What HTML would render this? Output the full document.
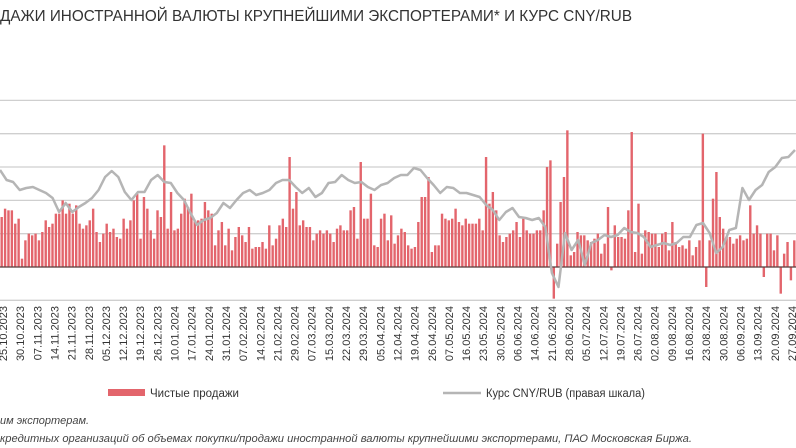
<!DOCTYPE html>
<html><head><meta charset="utf-8">
<style>
body{margin:0;background:#fff;width:796px;height:448px;overflow:hidden;font-family:"Liberation Sans",sans-serif}
svg{display:block}
</style></head>
<body>
<svg id="chart" width="796" height="448" xmlns="http://www.w3.org/2000/svg">
<text x="0" y="21" font-size="15.5" fill="#333" textLength="632" lengthAdjust="spacingAndGlyphs">ДАЖИ ИНОСТРАННОЙ ВАЛЮТЫ КРУПНЕЙШИМИ ЭКСПОРТЕРАМИ* И КУРС CNY/RUB</text>
<g id="grid"></g>
<g id="bars"></g>
<g id="line"></g>
<g id="xlabels"></g>
<g>
<rect x="108" y="389" width="37" height="7" fill="#e3656c"/>
<text x="150" y="397" font-size="11.5" fill="#333">Чистые продажи</text>
<line x1="443" y1="393" x2="481" y2="393" stroke="#b5b5b5" stroke-width="2.5"/>
<text x="486" y="397" font-size="11.5" fill="#333" textLength="159" lengthAdjust="spacingAndGlyphs">Курс CNY/RUB (правая шкала)</text>
</g>
<text x="0" y="424" font-size="11" font-style="italic" fill="#444">им экспортерам.</text>
<text x="0" y="442" font-size="11" font-style="italic" fill="#444" textLength="692" lengthAdjust="spacingAndGlyphs">кредитных организаций об объемах покупки/продажи иностранной валюты крупнейшими экспортерами, ПАО Московская Биржа.</text>
</svg>
<script>
const netSales=[1.5,1.75,1.7,1.7,1.3,1.45,0.25,0.8,1.0,0.95,1.0,0.8,1.05,1.4,1.2,1.3,1.6,1.6,2.0,1.6,1.9,1.6,1.85,1.3,1.15,1.25,1.4,1.75,1.05,0.75,1.0,1.3,1.05,1.15,0.9,0.85,1.45,1.15,1.4,2.0,2.2,0.85,2.1,1.75,1.1,0.85,1.7,1.5,3.65,1.15,2.25,1.1,1.15,1.6,2.05,1.8,2.2,1.4,1.4,1.45,1.95,1.7,1.6,0.65,1.1,1.35,0.65,1.15,0.5,0.9,1.2,0.95,0.75,1.2,0.55,0.6,0.6,0.75,0.55,1.25,0.65,0.85,1.25,1.45,1.2,3.3,1.75,2.25,1.25,1.4,1.2,1.2,0.8,1.0,1.1,1.0,1.1,1.0,0.75,1.15,1.25,1.1,1.1,1.7,1.8,0.85,3.15,1.45,1.45,2.2,0.65,0.6,1.45,1.6,0.8,1.55,
0.7,0.95,1.15,1.05,0.65,0.55,0.6,1.35,2.1,2.1,2.7,0.45,0.65,0.65,1.6,1.45,1.4,1.45,1.75,1.35,1.25,1.45,1.3,1.3,1.3,1.45,1.1,3.3,1.9,2.25,1.7,0.95,0.75,0.9,1.0,1.1,1.35,0.9,1.45,1.1,1.0,1.0,1.1,1.1,1.7,3.0,3.2,-0.95,0.7,1.95,2.7,4.1,0.35,0.45,1.05,0.95,0.95,0.8,0.75,0.85,1.0,0.4,0.7,1.8,-0.1,1.25,0.9,0.9,0.85,1.7,4.05,0.45,1.9,0.4,1.1,1.05,1.0,1.0,0.6,1.0,1.05,0.5,1.35,0.75,0.6,0.65,0.55,0.8,0.35,0.6,0.8,4.0,-0.6,0.8,2.05,2.85,1.5,1.15,0.9,0.9,0.7,0.85,0.95,0.8,0.85,1.85,1.0,1.25,1.0,-0.3,1.0,1.0,0.5,0.95,-0.8,0.4,0.75,-0.4,0.8];
const cnyRub=[12.80,12.70,12.68,12.60,12.62,12.63,12.60,12.57,12.52,12.38,12.47,12.38,12.43,12.47,12.52,12.60,12.73,12.79,12.73,12.58,12.50,12.58,12.58,12.70,12.75,12.68,12.67,12.57,12.50,12.37,12.25,12.30,12.32,12.37,12.47,12.42,12.50,12.57,12.60,12.55,12.57,12.60,12.67,12.70,12.70,12.63,12.57,12.62,12.53,12.57,12.67,12.68,12.75,12.70,12.67,12.68,12.63,12.60,12.65,12.67,12.72,12.75,
12.75,12.82,12.80,12.72,12.65,12.57,12.63,12.62,12.57,12.57,12.55,12.53,12.45,12.40,12.30,12.38,12.42,12.33,12.32,12.30,12.32,12.23,11.77,11.63,12.17,12.00,12.10,11.85,12.07,12.10,12.15,12.13,12.15,12.22,12.18,12.17,12.13,12.03,12.05,12.07,12.05,12.07,12.13,12.13,12.25,12.27,12.17,11.97,12.03,12.20,12.22,12.62,12.50,12.60,12.65,12.78,12.83,12.92,12.93,13.00];
const dateLabels=["25.10.2023","30.10.2023","07.11.2023","14.11.2023","21.11.2023","28.11.2023","05.12.2023","12.12.2023","19.12.2023","26.12.2023","10.01.2024","17.01.2024","24.01.2024","31.01.2024","07.02.2024","14.02.2024","21.02.2024","29.02.2024","07.03.2024","15.03.2024","22.03.2024","29.03.2024","05.04.2024","12.04.2024","19.04.2024","26.04.2024","07.05.2024","16.05.2024","23.05.2024","30.05.2024","06.06.2024","14.06.2024","21.06.2024","28.06.2024","05.07.2024","12.07.2024","19.07.2024","26.07.2024","02.08.2024","09.08.2024","16.08.2024","23.08.2024","30.08.2024","06.09.2024","13.09.2024","20.09.2024","27.09.2024"];
const leftTicks=[-1,0,1,2,3,4,5];

const NS="http://www.w3.org/2000/svg";
const W=796, y0=267, unit=33.33;
const yL=v=>y0-v*unit;
const yR=v=>100+(13.5-v)*100;
const bw=W/netSales.length;
const xBar=i=>i*bw+bw/2;
const xLine=i=>i*(W-1)/(cnyRub.length-1);
function mk(tag,parent){const e=document.createElementNS(NS,tag);parent.appendChild(e);return e;}

const grid=document.getElementById('grid');
leftTicks.forEach(t=>{
  const l=mk('line',grid);
  
  
  l.setAttribute('x1',0);l.setAttribute('x2',W);
  l.setAttribute('y1',yL(t));l.setAttribute('y2',yL(t));
  l.setAttribute('stroke','#cfcfcf');l.setAttribute('stroke-width','1.3');
});
const bars=document.getElementById('bars');
netSales.forEach((v,i)=>{
  const r=mk('rect',bars);
  
  
  r.setAttribute('x',xBar(i)-1.2);r.setAttribute('width',2.4);
  r.setAttribute('y',Math.min(yL(v),y0));r.setAttribute('height',Math.abs(v*unit));
  r.setAttribute('fill','#e3656c');
});
const zl=mk('line',bars);


zl.setAttribute('x1',0);zl.setAttribute('x2',W);zl.setAttribute('y1',y0);zl.setAttribute('y2',y0);
zl.setAttribute('stroke','#5a4040');zl.setAttribute('stroke-width','1.3');

const lg=document.getElementById('line');
const p=mk('path',lg);


p.setAttribute('d',cnyRub.map((v,i)=>(i?'L':'M')+xLine(i).toFixed(1)+','+yR(v).toFixed(1)).join(''));
p.setAttribute('fill','none');p.setAttribute('stroke','#b5b5b5');p.setAttribute('stroke-width','2.5');p.setAttribute('stroke-linejoin','round');

const xl=document.getElementById('xlabels');
dateLabels.forEach((d,i)=>{
  const t=mk('text',xl);
  
  
  const x=7+i*17.15, y=306;
  t.setAttribute('x',x);t.setAttribute('y',y);
  t.setAttribute('transform','rotate(-90 '+x+' '+y+')');
  t.setAttribute('text-anchor','end');
  t.setAttribute('font-size','11');t.setAttribute('fill','#333');
  t.textContent=d;
});
</script>
</body></html>
